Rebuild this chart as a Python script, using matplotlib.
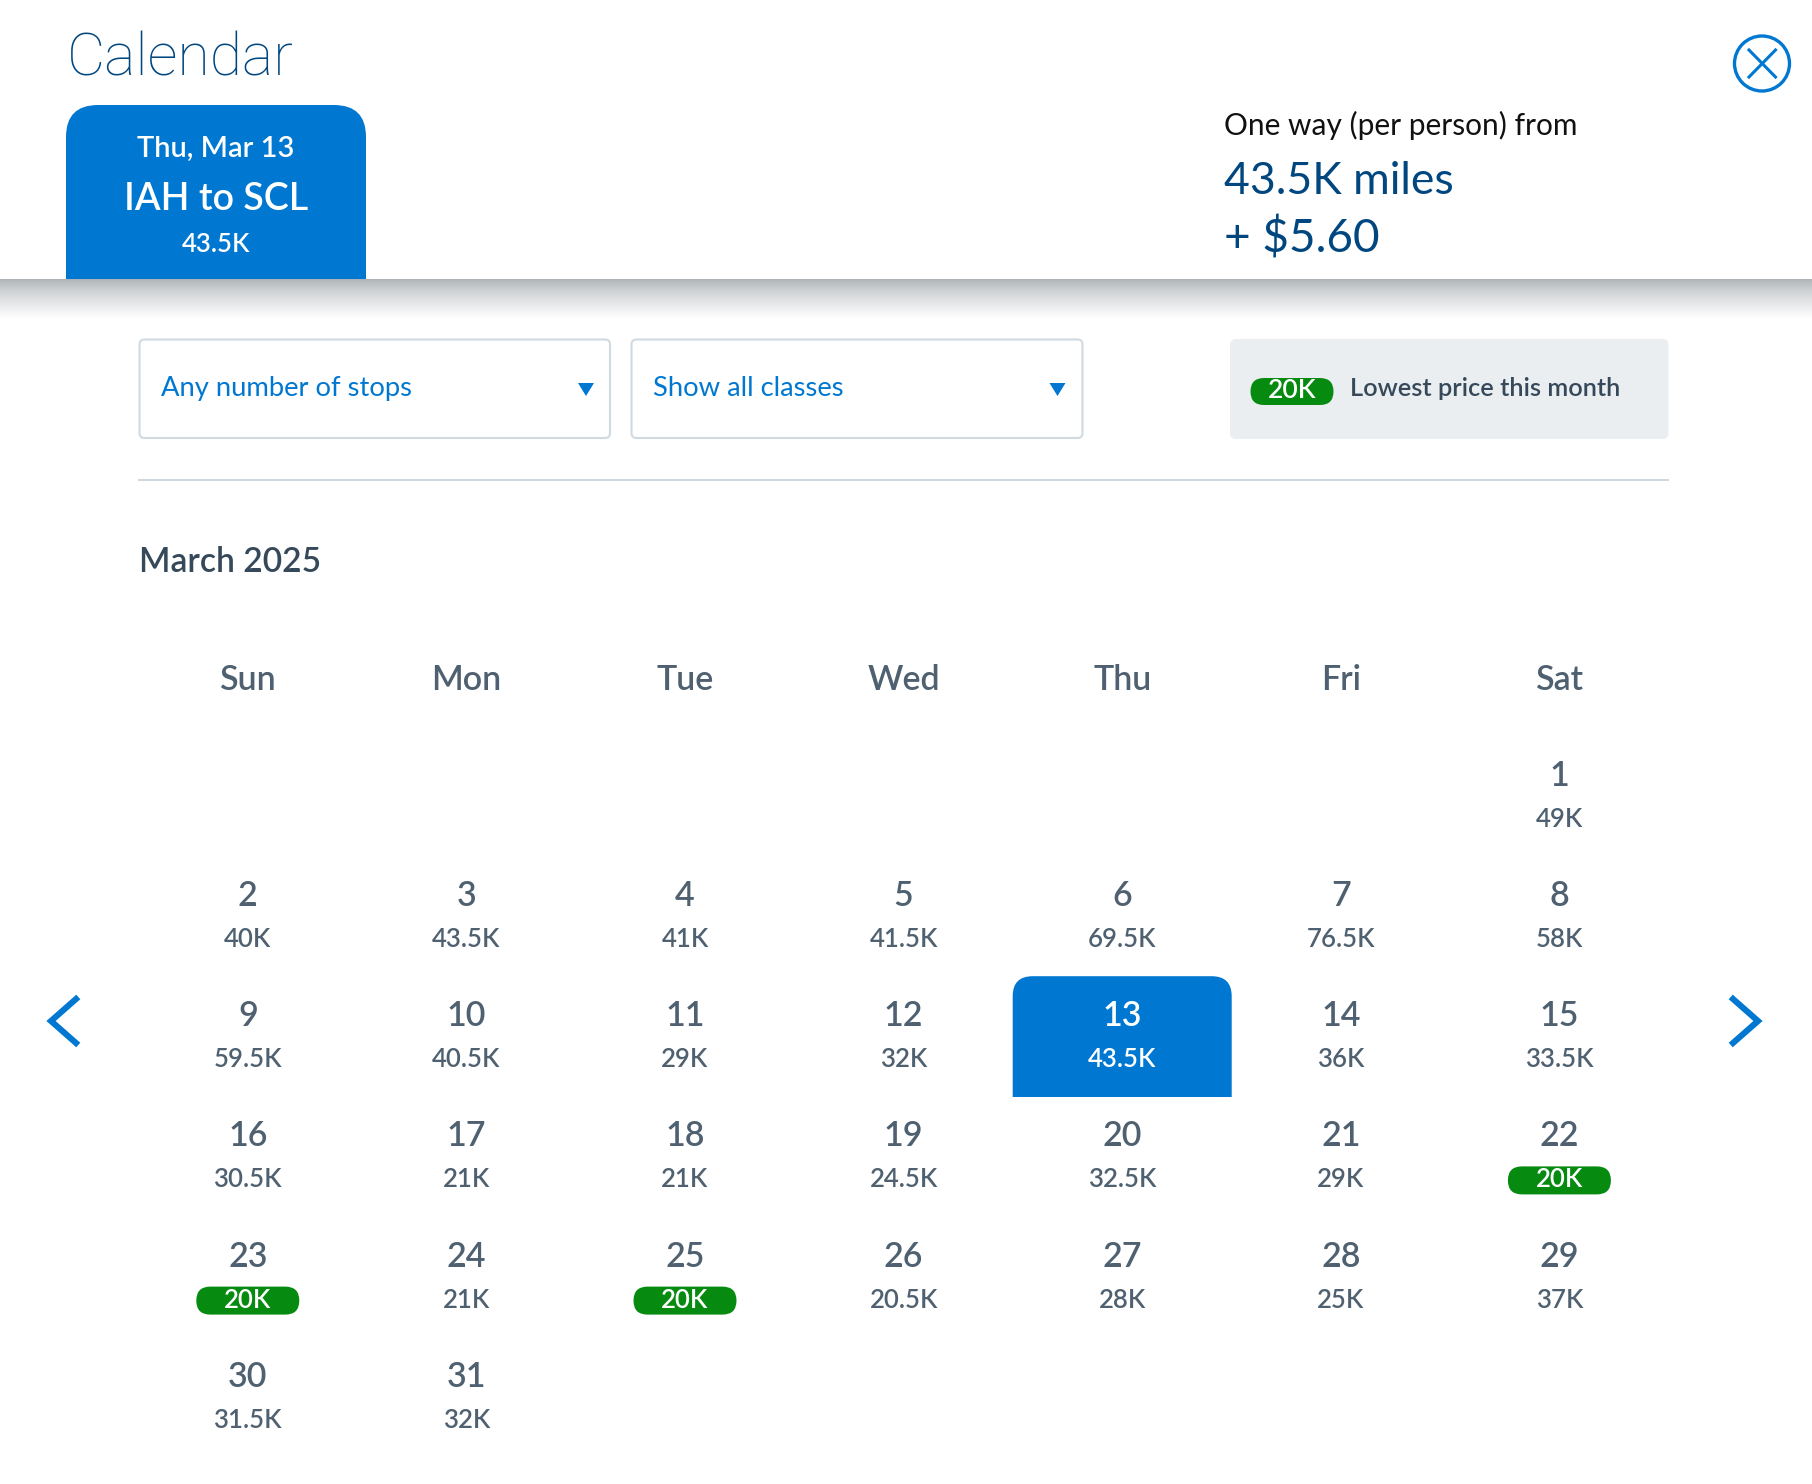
import matplotlib

matplotlib.use("Agg")
import matplotlib.pyplot as plt
import numpy as np
from matplotlib.patches import Circle, FancyBboxPatch, PathPatch, Polygon
from matplotlib.path import Path

plt.rcParams["font.family"] = ["Lato", "DejaVu Sans"]

W, H = 1812, 1484
BLUE = "#0078D2"
NAVY = "#00467F"
GREEN = "#078A10"
SLATE = "#4F6170"
DARK = "#36495A"
BORDER = "#D0DAE0"

WEEKDAYS = ["Sun", "Mon", "Tue", "Wed", "Thu", "Fri", "Sat"]
PRICES = [
    "49K", "40K", "43.5K", "41K", "41.5K", "69.5K", "76.5K", "58K",
    "59.5K", "40.5K", "29K", "32K", "43.5K", "36K", "33.5K", "30.5K",
    "21K", "21K", "24.5K", "32.5K", "29K", "20K", "20K", "21K",
    "20K", "20.5K", "28K", "25K", "37K", "31.5K", "32K",
]
LOWEST = "20K"
SELECTED_DAY = 13
FIRST_WEEKDAY = 6  # March 1 2025 is a Saturday

COL_X0, COL_STEP = 247.8, 218.6
ROW_Y0, ROW_STEP = 785.8, 120.2


def top_rounded(x0, x1, y0, y1, r):
    verts = [
        (x0, y1), (x0, y0 + r), (x0, y0), (x0 + r, y0), (x1 - r, y0),
        (x1, y0), (x1, y0 + r), (x1, y1), (x0, y1),
    ]
    codes = [
        Path.MOVETO, Path.LINETO, Path.CURVE3, Path.CURVE3, Path.LINETO,
        Path.CURVE3, Path.CURVE3, Path.LINETO, Path.CLOSEPOLY,
    ]
    return PathPatch(Path(verts, codes), fc=BLUE, ec="none")


def rounded(ax, x0, y0, x1, y1, r, fc, ec="none", lw=0):
    ax.add_patch(FancyBboxPatch(
        (x0 + r, y0 + r), x1 - x0 - 2 * r, y1 - y0 - 2 * r,
        boxstyle=f"round,pad={r},rounding_size={r}", fc=fc, ec=ec, lw=lw,
    ))


def label(ax, x, y, s, size, color, ha="center", weight="normal", family=None):
    ax.text(x, y, s, fontsize=size, color=color, ha=ha, va="baseline",
            fontweight=weight, family=family, zorder=5)


fig = plt.figure(figsize=(W / 100, H / 100), dpi=100)
ax = fig.add_axes([0, 0, 1, 1])

# header shadow
shade = np.linspace(0, 1, 50).reshape(-1, 1) ** 0.75
cmap = matplotlib.colors.LinearSegmentedColormap.from_list("shade", ["#AEB3B7", "#FFFFFF"])
ax.imshow(shade, extent=(0, W, 319, 279), cmap=cmap, aspect="auto", zorder=0)
ax.set_xlim(0, W)
ax.set_ylim(H, 0)
ax.axis("off")

# header
label(ax, 67, 75.5, "Calendar", 42.5, NAVY, ha="left", weight="light", family=["Roboto", "DejaVu Sans"])
ax.add_patch(top_rounded(66, 366, 105, 279, 32))
label(ax, 216, 156.7, "Thu, Mar 13", 21, "white", weight="semibold")
label(ax, 216, 210, "IAH to SCL", 27, "white", weight="semibold")
label(ax, 216, 251.7, "43.5K", 18.5, "white", weight="semibold")

label(ax, 1224, 135, "One way (per person) from", 21.5, "#111111", ha="left")
label(ax, 1224, 194, "43.5K miles", 32, NAVY, ha="left")
label(ax, 1224, 252.5, "+ $5.60", 33, NAVY, ha="left")

ax.add_patch(Circle((1762, 63.5), 27.5, fc="none", ec=BLUE, lw=2.4))
ax.plot([1749, 1775.5], [50, 77], color=BLUE, lw=2.2)
ax.plot([1749, 1775.5], [77, 50], color=BLUE, lw=2.2)

# filters
rounded(ax, 139.5, 339.5, 610, 438, 5, "white", BORDER, 1.5)
rounded(ax, 631.5, 339.5, 1082.5, 438, 5, "white", BORDER, 1.5)
label(ax, 161, 396, "Any number of stops", 19.7, BLUE, ha="left")
label(ax, 653, 396, "Show all classes", 19.7, BLUE, ha="left")
ax.add_patch(Polygon([(578, 383), (594, 383), (586, 396)], fc=BLUE, ec="none"))
ax.add_patch(Polygon([(1049.5, 383), (1065.5, 383), (1057.5, 396)], fc=BLUE, ec="none"))

rounded(ax, 1230, 339, 1668.5, 439, 6, "#EBEEF0")
rounded(ax, 1250.5, 378, 1333.5, 405, 13.5, GREEN)
label(ax, 1292, 398.5, LOWEST, 19, "white", weight="semibold")
label(ax, 1350, 396.5, "Lowest price this month", 18.3, DARK, ha="left", weight="semibold")

ax.plot([139, 1668], [479.5, 479.5], color=BORDER, lw=1.5)
label(ax, 139, 572, "March 2025", 24.2, DARK, ha="left", weight="semibold")

# calendar grid
for i, name in enumerate(WEEKDAYS):
    label(ax, COL_X0 + i * COL_STEP, 690, name, 24.5, SLATE, weight="semibold")

for idx, price in enumerate(PRICES):
    day = idx + 1
    slot = idx + FIRST_WEEKDAY
    col, row = slot % 7, slot // 7
    x = COL_X0 + col * COL_STEP
    y = ROW_Y0 + row * ROW_STEP
    day_color, price_color = SLATE, SLATE
    if day == SELECTED_DAY:
        ax.add_patch(top_rounded(x - 109.5, x + 109.5, y - 50, y + 70.8, 20))
        day_color, price_color = "white", "white"
    if price == LOWEST:
        rounded(ax, x - 51.5, y + 20, x + 51.5, y + 48, 14, GREEN)
        price_color = "white"
    label(ax, x, y, str(day), 24.5, day_color, weight="semibold")
    label(ax, x, y + 41, price, 18.5, price_color, weight="semibold")

# month arrows
ax.plot([76, 51, 76], [999, 1021, 1043], color=BLUE, lw=4.4, solid_joinstyle="miter")
ax.plot([1733, 1758, 1733], [999, 1021, 1043], color=BLUE, lw=4.4, solid_joinstyle="miter")

fig.savefig("out.png", dpi=100)
